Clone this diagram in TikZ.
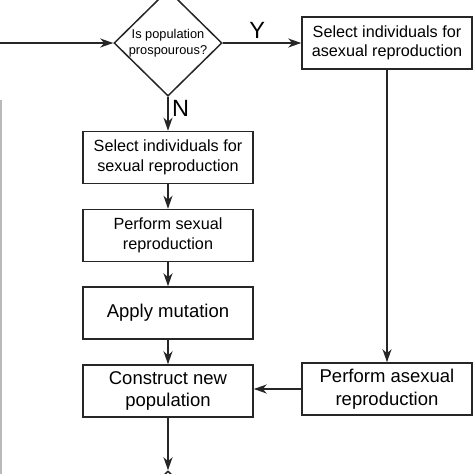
\documentclass[tikz,border=0pt]{standalone}
\usepackage{fontspec}
\setmainfont{Liberation Sans}
\usetikzlibrary{shapes.geometric,arrows.meta}

\begin{document}
\begin{tikzpicture}[x=1pt,y=-1pt,sibling distance=0pt,
  stepbox/.style={rectangle,draw=black!85,line width=1.5pt,minimum width=170pt,minimum height=52pt,inner sep=0pt,align=center,font=\fontsize{16.2}{19.5}\selectfont},
  bigstep/.style={stepbox,font=\fontsize{18.5}{22.5}\selectfont},
  decide/.style={diamond,draw=black!85,line width=1.5pt,aspect=1,minimum width=108pt,minimum height=106pt,inner sep=0pt,align=center,font=\fontsize{12.8}{16}\selectfont},
  branch/.style={font=\fontsize{23.5}{25}\selectfont},
  arrowline/.style={draw=black!85,line width=1.5pt,-{Stealth[length=13pt,width=9pt,inset=4pt]}},
  edge from parent/.style={arrowline}]
\useasboundingbox (0,0) rectangle (474,474);
\clip (0,0) rectangle (474,474);
\node [decide] (pros) at (168,43) {Is population\\prospourous?}
  child [level distance=114.5pt] {node [stepbox] (selsex) {Select individuals for\\sexual reproduction}
    child [level distance=78pt] {node [stepbox] (persex) {Perform sexual\\reproduction}
      child [level distance=77.5pt] {node [bigstep] (mutate) {Apply mutation}
        child [level distance=78pt] {node [bigstep] (newpop) {Construct new\\population}
          child [level distance=133pt] {node [decide] (nextdec) {}}
        }
      }
    }
    edge from parent node [branch,right,pos=0.34] {N}
  }
  child [grow=right,level distance=219pt] {node [stepbox] (selasex) {Select individuals for\\asexual reproduction}
    child [grow=down,level distance=346pt] {node [bigstep] (perasex) {Perform asexual\\reproduction}}
    edge from parent node [branch,above,pos=0.44] {Y}
  };
\coordinate (loopin) at (0,43);
\coordinate (loopup) at (1,100);
\coordinate (loopdown) at (1,474);
\draw [gray!55,line width=2pt] (loopup) -- (loopdown);
\draw [arrowline] (loopin) -- (pros);
\draw [arrowline] (perasex.west) -- (newpop.east |- perasex.west);
\end{tikzpicture}
\end{document}
